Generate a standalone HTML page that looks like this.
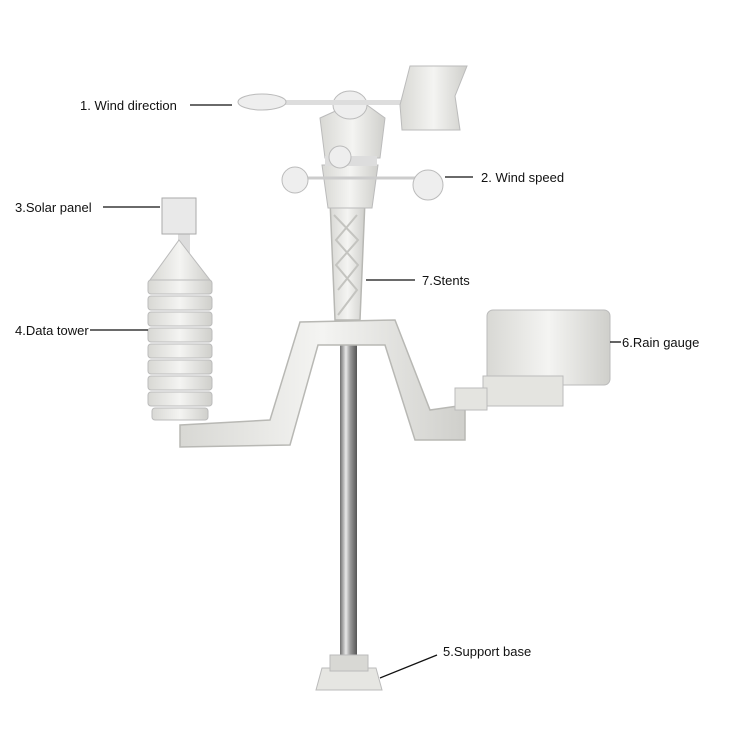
<!DOCTYPE html>
<html><head><meta charset="utf-8"><style>
body{margin:0;background:#fff;}
svg{display:block}
text{font-family:"Liberation Sans",sans-serif;font-size:13px;fill:#111}
</style></head><body>
<svg width="750" height="750" viewBox="0 0 750 750">
<defs>
<linearGradient id="pole" x1="0" x2="1"><stop offset="0" stop-color="#6f6f6f"/><stop offset=".35" stop-color="#e8e8e8"/><stop offset=".6" stop-color="#9a9a9a"/><stop offset="1" stop-color="#555"/></linearGradient>
<linearGradient id="wh" x1="0" x2="1"><stop offset="0" stop-color="#d8d8d4"/><stop offset=".5" stop-color="#f4f4f2"/><stop offset="1" stop-color="#cfcfcb"/></linearGradient>
</defs>
<!-- pole -->
<rect x="340" y="318" width="17" height="352" fill="url(#pole)"/>
<!-- base -->
<polygon points="322,668 376,668 382,690 316,690" fill="#e6e6e2" stroke="#bbb"/>
<rect x="330" y="655" width="38" height="16" fill="#d8d8d4" stroke="#bbb"/>
<!-- arms -->
<polygon points="180,425 270,420 300,322 395,320 430,410 465,405 465,440 415,440 385,345 318,345 290,445 180,447" fill="url(#wh)" stroke="#b8b8b4" stroke-width="1.5"/>
<!-- stent column -->
<polygon points="330,200 365,200 360,320 335,320" fill="url(#wh)" stroke="#b8b8b4" stroke-width="1.5"/>
<path d="M334,215 L358,240 L336,265 L357,290 L338,315 M357,215 L336,240 L358,265 L338,290" stroke="#c4c4c0" fill="none" stroke-width="2"/>
<!-- data tower -->
<rect x="178" y="225" width="12" height="28" fill="#ddd"/>
<rect x="162" y="198" width="34" height="36" fill="#e9e9e9" stroke="#aaa"/>
<polygon points="179,240 210,280 150,280" fill="url(#wh)" stroke="#bbb"/>
<g fill="url(#wh)" stroke="#bbb">
<rect x="148" y="280" width="64" height="14" rx="3"/>
<rect x="148" y="296" width="64" height="14" rx="3"/>
<rect x="148" y="312" width="64" height="14" rx="3"/>
<rect x="148" y="328" width="64" height="14" rx="3"/>
<rect x="148" y="344" width="64" height="14" rx="3"/>
<rect x="148" y="360" width="64" height="14" rx="3"/>
<rect x="148" y="376" width="64" height="14" rx="3"/>
<rect x="148" y="392" width="64" height="14" rx="3"/>
<rect x="152" y="408" width="56" height="12" rx="3"/>
</g>
<!-- rain gauge -->
<rect x="487" y="310" width="123" height="75" rx="6" fill="url(#wh)" stroke="#bbb"/>
<rect x="483" y="376" width="80" height="30" fill="#e4e4e0" stroke="#bbb"/>
<rect x="455" y="388" width="32" height="22" fill="#e4e4e0" stroke="#bbb"/>
<!-- wind sensors -->
<polygon points="320,118 360,100 385,118 380,158 325,158" fill="url(#wh)" stroke="#bbb"/>
<ellipse cx="350" cy="105" rx="17" ry="14" fill="#eee" stroke="#bbb"/>
<polygon points="322,165 378,165 372,208 328,208" fill="url(#wh)" stroke="#bbb"/>
<rect x="325" y="156" width="52" height="10" fill="#ddd"/>
<rect x="280" y="100" width="140" height="5" fill="#ddd"/>
<ellipse cx="262" cy="102" rx="24" ry="8" fill="#eee" stroke="#bbb"/>
<polygon points="400,105 410,66 467,66 455,96 460,130 402,130" fill="url(#wh)" stroke="#bbb"/>
<line x1="290" y1="178" x2="415" y2="178" stroke="#ccc" stroke-width="3"/>
<circle cx="295" cy="180" r="13" fill="#eee" stroke="#bbb"/>
<circle cx="428" cy="185" r="15" fill="#eee" stroke="#bbb"/>
<circle cx="340" cy="157" r="11" fill="#eee" stroke="#bbb"/>
<!-- labels -->
<g stroke="#111" stroke-width="1.3">
<line x1="190" y1="105" x2="232" y2="105"/>
<line x1="445" y1="177" x2="473" y2="177"/>
<line x1="103" y1="207" x2="160" y2="207"/>
<line x1="90" y1="330" x2="148" y2="330"/>
<line x1="366" y1="280" x2="415" y2="280"/>
<line x1="610" y1="342" x2="621" y2="342"/>
<line x1="380" y1="678" x2="437" y2="655"/>
</g>
<text x="80" y="110">1. Wind direction</text>
<text x="481" y="182">2. Wind speed</text>
<text x="15" y="212">3.Solar  panel</text>
<text x="15" y="335">4.Data tower</text>
<text x="422" y="285">7.Stents</text>
<text x="622" y="347">6.Rain gauge</text>
<text x="443" y="656">5.Support base</text>
</svg>
</body></html>
